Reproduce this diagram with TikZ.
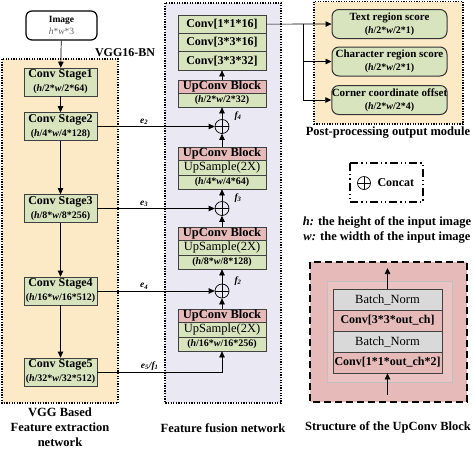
\documentclass[tikz,border=0pt]{standalone}
\usepackage{fontspec}
\setmainfont{Liberation Serif}
\usepackage{tikz}
\usetikzlibrary{arrows.meta}
\definecolor{yelbg}{RGB}{252,234,198}
\definecolor{lavbg}{RGB}{234,232,242}
\definecolor{grn}{RGB}{216,228,190}
\definecolor{pnk}{RGB}{230,186,185}
\definecolor{pnkin}{RGB}{234,196,195}
\definecolor{gry}{RGB}{217,217,217}
\newcommand{\dimtxt}[3]{(\textit{h}/#1*\textit{w}/#2*#3)}

\begin{document}
\begin{tikzpicture}[x=1pt,y=-1pt,
  arr/.style={-{Triangle[length=6pt,width=5.5pt]},line width=0.7pt},
  dotbox/.style={line width=1.3pt,dash pattern=on 1.3pt off 1.3pt},
  stagebox/.style={draw=black!75,line width=0.7pt,fill=grn,minimum width=73pt,minimum height=28pt,inner sep=0pt,align=center,font=\fontsize{12}{13}\selectfont\bfseries},
  row/.style={draw=black!75,line width=0.7pt,minimum width=88pt,inner sep=0pt},
  rowgrn/.style={row,fill=grn,minimum height=15pt,font=\fontsize{12.5}{13}\selectfont},
  rowpnk/.style={row,fill=pnk,minimum height=13pt,font=\fontsize{12.5}{13}\selectfont\bfseries},
  dimrow/.style={row,fill=grn,minimum height=14pt,font=\fontsize{10}{11}\selectfont\bfseries},
  convrow/.style={row,fill=grn,minimum height=18.4pt,font=\fontsize{12}{13}\selectfont\bfseries},
  plusnode/.style={circle,draw,line width=0.7pt,minimum size=14pt,inner sep=0pt,
    path picture={\draw[line width=0.7pt] (path picture bounding box.north) -- (path picture bounding box.south) (path picture bounding box.east) -- (path picture bounding box.west);}},
  outbox/.style={draw=black!80,line width=1pt,rounded corners=7pt,fill=grn,minimum width=115pt,minimum height=29pt,inner sep=0pt,align=center,font=\fontsize{11}{13}\selectfont\bfseries},
  bnrow/.style={draw=black!75,line width=0.7pt,minimum width=109pt,minimum height=21pt,inner sep=0pt},
  lbl/.style={font=\fontsize{9.5}{10}\selectfont\bfseries\itshape,inner sep=1.5pt},
  title/.style={font=\fontsize{12.5}{15}\selectfont\bfseries,align=center}
]
\useasboundingbox (0,0) rectangle (474,448);
% three frames
\filldraw[dotbox,fill=yelbg] (2,59) rectangle (118,403); %
\filldraw[dotbox,fill=lavbg] (165,3) rectangle (281,403); %
\filldraw[dotbox,fill=yelbg] (314,1.5) rectangle (463,124); %

% VGG backbone
\node[draw,line width=1.2pt,rounded corners=6pt,fill=white,minimum width=71pt,minimum height=29pt,inner sep=0pt,align=center] (img) at (61.5,25.5)
  {{\fontsize{9.5}{11}\selectfont\bfseries Image}\\{\fontsize{9.5}{11}\selectfont\color{black!60}\textit{h}*\textit{w}*3}};
\node[title,font=\fontsize{12}{14}\selectfont\bfseries] (vggname) at (125,53) {VGG16-BN};
\foreach \n/\y/\dd/\ch in {1/82/2/64,2/126.5/4/128,3/208.5/8/256,4/291/16/512,5/372/32/512}
{
	\node[stagebox] (s\n) at (60.5,\y) {Conv Stage\n\\[1pt]{\fontsize{10}{11}\selectfont\dimtxt{\dd}{\dd}{\ch}}}; %
}
\draw[arr] (img) -- (s1);
\foreach \a/\b in {1/2,2/3,3/4,4/5}
{
	\draw[arr] (s\a) -- (s\b); %
}
\node[title] (vggtitle) at (60,427) {VGG Based\\Feature extraction\\network};

% fusion branch
\foreach \k/\t in {1/{Conv[1*1*16]},2/{Conv[3*3*16]},3/{Conv[3*3*32]}}
{
	\node[convrow] (cv\k) at (222,{15+18.33*(\k-0.5)}) {\t}; %
}
\node[rowpnk] (b1a) at (222,86.5) {UpConv Block};
\node[dimrow] (b1c) at (222,100) {\dimtxt{2}{2}{32}};
\node[rowpnk] (b2a) at (222,153.5) {UpConv Block};
\node[rowgrn] (b2b) at (222,167.5) {UpSample(2X)};
\node[dimrow] (b2c) at (222,182) {\dimtxt{4}{4}{64}};
\node[rowpnk] (b3a) at (222,233.5) {UpConv Block};
\node[rowgrn] (b3b) at (222,247.5) {UpSample(2X)};
\node[dimrow] (b3c) at (222,262) {\dimtxt{8}{8}{128}};
\node[rowpnk] (b4a) at (222,315.5) {UpConv Block};
\node[rowgrn] (b4b) at (222,329.5) {UpSample(2X)};
\node[dimrow] (b4c) at (222,344) {\dimtxt{16}{16}{256}};

\node[plusnode] (p4) at (222,126.5) {};
\node[plusnode] (p3) at (222,208.5) {};
\node[plusnode] (p2) at (222,291) {};
\node[lbl] (f4) at (238,116) {f\textsubscript{4}};
\node[lbl] (f3) at (238,198) {f\textsubscript{3}};
\node[lbl] (f2) at (238,281) {f\textsubscript{2}};

\draw[arr] (b1a) -- (cv3);
\draw[arr] (p4) -- (b1c);
\draw[arr] (b2a) -- (p4);
\draw[arr] (p3) -- (b2c);
\draw[arr] (b3a) -- (p3);
\draw[arr] (p2) -- (b3c);
\draw[arr] (b4a) -- (p2);

\draw[arr] (s2) -- (p4) node[lbl,pos=0.4,above] {e\textsubscript{2}};
\draw[arr] (s3) -- (p3) node[lbl,pos=0.4,above] {e\textsubscript{3}};
\draw[arr] (s4) -- (p2) node[lbl,pos=0.4,above] {e\textsubscript{4}};
\draw[arr] (s5) -| (b4c) node[lbl,pos=0.21,above] {e\textsubscript{5}/f\textsubscript{1}};
\node[title] (fusetitle) at (223,428) {Feature fusion network};

% output heads
\node[outbox] (o1) at (389.5,24) {Text region score\\{\fontsize{10}{11}\selectfont\dimtxt{2}{2}{1}}};
\node[outbox] (o2) at (389.5,61.5) {Character region score\\{\fontsize{10}{11}\selectfont\dimtxt{2}{2}{1}}};
\node[outbox] (o3) at (389.5,100) {Corner coordinate offset\\{\fontsize{10}{11}\selectfont\dimtxt{2}{2}{4}}};
\coordinate (split) at (303,24);
\draw[arr] (cv1) -- (o1);
\draw[arr] (split) |- (o2);
\draw[arr] (split) |- (o3);
\node[title] (posttitle) at (388,133) {Post-processing output module};

% legend
\draw[line width=1.2pt,dash pattern=on 8pt off 3pt on 1.3pt off 3pt on 1.3pt off 3pt] (350,163) rectangle (423,202); %
\node[plusnode,minimum size=13pt] (cc) at (364,183) {};
\node[font=\fontsize{12}{14}\selectfont\bfseries,anchor=west] (cctext) at (374,183) {Concat};
\node[title] (hnote) at (387,222) {\textit{h:} the height of the input image};
\node[title] (wnote) at (387,237) {\textit{w:} the width of the input image};

% upconv block detail
\filldraw[fill=pnk,line width=1.3pt,dash pattern=on 7pt off 4pt] (310,262) rectangle (467,402); %
\filldraw[fill=pnkin,draw=black!25,line width=0.6pt] (327,281) rectangle (452,382); %
\node[bnrow,fill=gry,font=\fontsize{12.5}{13}\selectfont] (bn1) at (387.5,299.5) {Batch\_Norm};
\node[bnrow,fill=pnk,font=\fontsize{12}{13}\selectfont\bfseries] (uc1) at (387.5,320.5) {Conv[3*3*out\_ch]};
\node[bnrow,fill=gry,font=\fontsize{12.5}{13}\selectfont] (bn2) at (387.5,341.5) {Batch\_Norm};
\node[bnrow,fill=pnk,font=\fontsize{12}{13}\selectfont\bfseries] (uc2) at (387.5,362.5) {Conv[1*1*out\_ch*2]};
\coordinate (upin) at (387.5,395);
\coordinate (upout) at (387.5,268);
\draw[arr] (upin) -- (uc2);
\draw[arr] (bn1) -- (upout);
\node[title] (uptitle) at (388,427) {Structure of the UpConv Block};
\end{tikzpicture}
\end{document}
